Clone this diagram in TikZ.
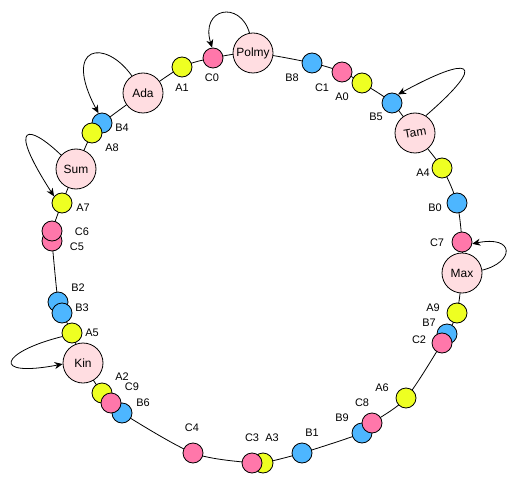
\documentclass[tikz,border=0pt]{standalone}
\usepackage{fontspec}
\setmainfont{Liberation Sans}
\usetikzlibrary{arrows.meta,backgrounds}
\definecolor{pk}{HTML}{FF77AA}
\definecolor{yl}{HTML}{EEFF22}
\definecolor{bl}{HTML}{4DB6FF}
\definecolor{lp}{HTML}{FFDDE1}
\begin{document}
\begin{tikzpicture}[x=1bp,y=-1bp,
  every node/.style={font=\fontsize{11}{13}\selectfont},
  person/.style={circle,draw,line width=0.8bp,fill=lp,minimum size=40bp,inner sep=0pt,font=\fontsize{12}{14}\selectfont},
  dot/.style={circle,draw,line width=0.8bp,minimum size=20bp,inner sep=0pt},
  da/.style={dot,fill=yl}, db/.style={dot,fill=bl}, dc/.style={dot,fill=pk},
  lab/.style={inner sep=0pt},
  selfarrow/.style={draw,line width=0.8bp,-{Stealth[length=8bp,width=7bp,inset=2.5bp]}},
  ring/.style={draw,line width=0.8bp}]
\useasboundingbox (0,0) rectangle (517,487);
% big nodes
\node[person] (Polmy) at (253,53) {Polmy};
\node[person] (Ada) at (143,93) {Ada};
\node[person] (Sum) at (76,169) {Sum};
\node[person] (Tam) at (415,133) {\rotatebox{10}{Tam}};
\node[person] (Max) at (462,273) {Max};
\node[person] (Kin) at (83,363) {Kin};
% small nodes
\node[dc] (C0) at (213,58) {};
\node[da] (A1) at (182,67) {};
\node[db] (B4) at (102,123) {};
\node[da] (A8) at (92,133) {};
\node[da] (A7) at (62,203) {};
\node[dc] (C5) at (52,241) {};
\node[dc] (C6) at (52,231) {};
\node[db] (B2) at (58,302) {};
\node[db] (B3) at (62,313) {};
\node[da] (A5) at (72,333) {};
\node[da] (A2) at (102,393) {};
\node[db] (B6) at (122,413) {};
\node[dc] (C9) at (111,403) {};
\node[dc] (C4) at (193,453) {};
\node[da] (A3) at (263,463) {};
\node[dc] (C3) at (252,463) {};
\node[db] (B1) at (302,453) {};
\node[db] (B9) at (362,433) {};
\node[dc] (C8) at (372,423) {};
\node[da] (A6) at (406,398) {};
\node[db] (B7) at (447,334) {};
\node[dc] (C2) at (442,343) {};
\node[da] (A9) at (457,313) {};
\node[dc] (C7) at (462,242) {};
\node[db] (B0) at (457,203) {};
\node[da] (A4) at (442,168) {};
\node[db] (B5) at (392,103) {};
\node[da] (A0) at (362,83) {};
\node[dc] (C1) at (342,72) {};
\node[db] (B8) at (312,63) {};
% labels
\node[lab] (lC0) at (212,78) {C0};
\node[lab] (lA1) at (182,88) {A1};
\node[lab] (lB4) at (122,128) {B4};
\node[lab] (lA8) at (112,148) {A8};
\node[lab] (lA7) at (83,208) {A7};
\node[lab] (lC6) at (82,232) {C6};
\node[lab] (lC5) at (77,247) {C5};
\node[lab] (lB2) at (78,288) {B2};
\node[lab] (lB3) at (82,308) {B3};
\node[lab] (lA5) at (92,333) {A5};
\node[lab] (lA2) at (122,377) {A2};
\node[lab] (lC9) at (132,387) {C9};
\node[lab] (lB6) at (143,403) {B6};
\node[lab] (lC4) at (192,428) {C4};
\node[lab] (lC3) at (252,438) {C3};
\node[lab] (lA3) at (272,438) {A3};
\node[lab] (lB1) at (312,433) {B1};
\node[lab] (lB9) at (342,418) {B9};
\node[lab] (lC8) at (362,403) {C8};
\node[lab] (lA6) at (382,388) {A6};
\node[lab] (lC2) at (419,340) {C2};
\node[lab] (lB7) at (429,323) {B7};
\node[lab] (lA9) at (433,308) {A9};
\node[lab] (lC7) at (437,243) {C7};
\node[lab] (lB0) at (435,208) {B0};
\node[lab] (lA4) at (423,173) {A4};
\node[lab] (lB5) at (376,117) {B5};
\node[lab] (lA0) at (342,97) {A0};
\node[lab] (lC1) at (322,88) {C1};
\node[lab] (lB8) at (292,78) {B8};
% ring
\begin{scope}[on background layer]
\draw[ring] plot[smooth cycle] coordinates {(Polmy.center) (B8.center) (C1.center) (A0.center) (B5.center) (Tam.center) (A4.center) (B0.center) (C7.center) (Max.center) (A9.center) (B7.center) (C2.center) (A6.center) (C8.center) (B9.center) (B1.center) (A3.center) (C3.center) (C4.center) (B6.center) (C9.center) (A2.center) (Kin.center) (A5.center) (B3.center) (B2.center) (C5.center) (C6.center) (A7.center) (Sum.center) (A8.center) (B4.center) (Ada.center) (A1.center) (C0.center)};
\end{scope}
% self arrows
\draw[selfarrow] (Polmy.100) .. controls (240,0) and (200,8) .. (C0.95);
\draw[selfarrow] (Ada.123) .. controls (105,38) and (62,45) .. (B4.110);
\draw[selfarrow] (Sum.137) .. controls (30,125) and (5,120) .. (A7.140);
\draw[selfarrow] (Tam.58) .. controls (490,60) and (470,55) .. (B5.55);
\draw[selfarrow] (Max.8) .. controls (515,262) and (515,235) .. (C7.-10);
\draw[selfarrow] (A5.200) .. controls (0,352) and (-10,378) .. (Kin.183);
\end{tikzpicture}
\end{document}
